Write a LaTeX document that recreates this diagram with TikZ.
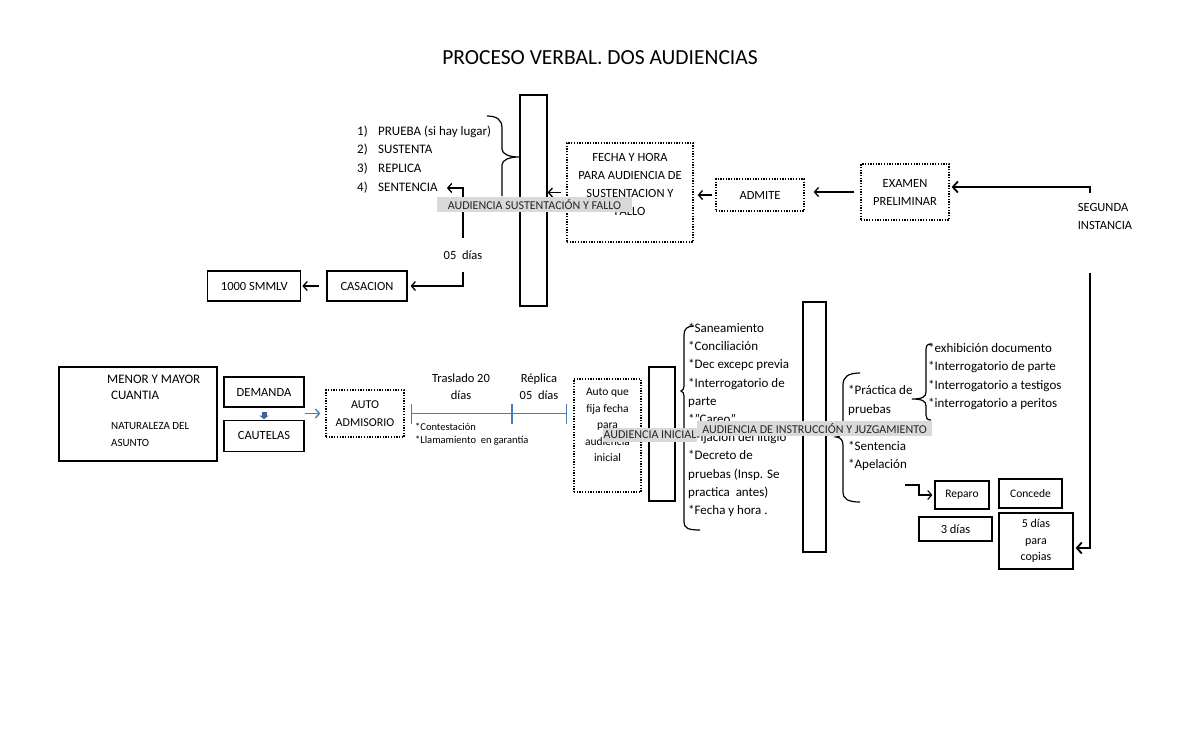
\documentclass[tikz,border=0pt]{standalone}
\usepackage{fontspec}
\setmainfont{Carlito}
\usepackage{tikz}
\usetikzlibrary{arrows.meta,positioning}
\definecolor{tagfill}{HTML}{D9D9D9}
\definecolor{lineblue}{HTML}{4A7EBB}
\definecolor{darkblue}{HTML}{3F6199}
\newcommand{\fs}[2]{\fontsize{#1}{#2}\selectfont}

\begin{document}
\begin{tikzpicture}[x=1pt, y=-1pt, font=\fs{12.5}{15}]
  \tikzstyle{box}=[draw, line width=1.2pt, inner sep=0pt, align=center]
  \tikzstyle{dbox}=[draw, dash pattern=on 1.3pt off 1.4pt, line width=1.3pt, inner sep=0pt]
  \tikzstyle{bar}=[draw, line width=1.2pt, inner sep=0pt]
  \tikzstyle{txt}=[inner sep=0pt, align=left]
  \tikzstyle{tag}=[fill=tagfill, inner sep=0pt, text=black!85, font=\fs{12}{14}]
  \tikzstyle{arrow}=[-{Straight Barb[length=4pt, width=9pt]}, line width=1.3pt]
  \tikzstyle{bigarrow}=[-{Straight Barb[length=5pt, width=11pt]}, line width=1.8pt]
  \tikzstyle{bluearrow}=[-{Straight Barb[length=4pt, width=9pt]}, line width=1.4pt, color=lineblue]
  \tikzstyle{timeline}=[{Bar[width=20pt]}-{Bar[width=20pt]}, line width=1.3pt, color=lineblue]
  \tikzstyle{brace}=[line width=1.2pt]

  \useasboundingbox (0,0) rectangle (1200,729);
  \fill[white] (0,0) rectangle (1200,729);

  \node[font=\fs{21.5}{26}] (title) at (600,58) {PROCESO VERBAL. DOS AUDIENCIAS};

  % audiencia de sustentacion y fallo
  \node[bar, minimum width=27pt, minimum height=211pt] (bar1) at (533.5,200.5) {};
  \node[txt, anchor=base west, text height=9pt, text depth=3pt, font=\fs{13}{15}] (l1) at (357,135) {\makebox[21pt][l]{1)}PRUEBA (si hay lugar)};
  \node[txt, anchor=base west, text height=9pt, text depth=3pt, font=\fs{13}{15}] (l2) at (357,153) {\makebox[21pt][l]{2)}SUSTENTA};
  \node[txt, anchor=base west, text height=9pt, text depth=3pt, font=\fs{13}{15}] (l3) at (357,172) {\makebox[21pt][l]{3)}REPLICA};
  \node[txt, anchor=base west, text height=9pt, text depth=3pt, font=\fs{13}{15}] (l4) at (357,191) {\makebox[21pt][l]{4)}SENTENCIA};
  \draw[brace] (487,116) .. controls (497,116) and (502,120) .. (502,128) -- (502,149)
    .. controls (502,154) and (509,157) .. (519,157)
    .. controls (509,157) and (502,160) .. (502,165) -- (502,196);

  \node[dbox, minimum width=126pt, minimum height=99pt] (fecha) at (630,192.5) {};
  \node[txt, align=center, font=\fs{12.5}{18.3}] (fechatext) at (630,184.5) {FECHA Y HORA\\PARA AUDIENCIA DE\\SUSTENTACION Y\\FALLO};
  \node[dbox, minimum width=88pt, minimum height=32pt] (admite) at (760,195) {ADMITE};
  \node[dbox, minimum width=88pt, minimum height=56pt, align=center, font=\fs{12.5}{18}] (examen) at (905,192) {EXAMEN\\PRELIMINAR};
  \node[txt, font=\fs{12.5}{18}] (segunda) at (1105,216) {SEGUNDA\\INSTANCIA};

  \draw[arrow, shorten <=5pt] (fecha.west) -- (fecha.west -| bar1.east);
  \draw[arrow, shorten <=3pt, shorten >=4pt] (admite.west) -- (admite.west -| fecha.east);
  \draw[arrow, shorten <=6pt, shorten >=9pt] (examen.west) -- (examen.west -| admite.east);

  \coordinate (s2top) at (1090,193);
  \coordinate (s2bend) at (1090,187);
  \coordinate (s2low) at (1090,273);
  \draw[bigarrow, shorten >=2pt] (s2top) -- (s2bend) -- (s2bend -| examen.east);

  \node[inner sep=0pt, minimum height=34pt] (dias) at (463,255) {05~~días};
  \node[box, minimum width=80pt, minimum height=30pt] (casacion) at (367,286) {CASACION};
  \node[box, minimum width=93pt, minimum height=30pt, left=25pt of casacion] (smmlv) {1000 SMMLV};
  \draw[arrow, shorten >=9pt] (dias.north) |- (l4.east);
  \draw[arrow, shorten >=3pt] (dias.south) |- (casacion.east);
  \draw[arrow, shorten <=7pt, shorten >=1pt] (casacion.west) -- (casacion.west -| smmlv.east);

  % primera parte
  \node[box, minimum width=158pt, minimum height=94pt] (menor) at (138,414) {};
  \node[txt, anchor=north west, font=\fs{13}{16}] (cuantia) at (107,375) {MENOR Y MAYOR\\\hspace*{4pt}CUANTIA};
  \node[txt, anchor=north west, font=\fs{11}{17}] (asunto) at (111,422) {NATURALEZA DEL\\ASUNTO};
  \node[box, minimum width=80pt, minimum height=30pt] (demanda) at (264,392) {DEMANDA};
  \node[box, minimum width=80pt, minimum height=31pt, below=12pt of demanda] (cautelas) {CAUTELAS};
  \draw[-{Triangle[width=9pt, length=3.5pt]}, line width=5pt, darkblue, shorten <=4pt, shorten >=0.5pt] (demanda) -- (cautelas);

  \node[dbox, minimum width=78pt, minimum height=47pt, align=center, font=\fs{12}{18}] (auto) at (365,413.5) {AUTO\\ADMISORIO};
  \draw[bluearrow, shorten >=5pt] (auto.west -| demanda.east) -- (auto.west);

  \coordinate (t0) at (411,413.5);
  \coordinate (t1) at (512,413.5);
  \coordinate (t2) at (567,413.5);
  \draw[timeline] (t0) -- (t1);
  \draw[timeline] (t1) -- (t2);
  \node[align=center, inner sep=0pt, font=\fs{12.5}{17}] (traslado) at (461,387) {Traslado 20\\días};
  \node[align=center, inner sep=0pt, font=\fs{12.5}{17}] (replica) at (539,387) {Réplica\\05~~días};
  \node[txt, anchor=north west, font=\fs{10.5}{13}] (contesta) at (415,423) {*Contestación\\*Llamamiento~~en garantía};

  % audiencia inicial
  \node[dbox, minimum width=67pt, minimum height=113pt] (autofija) at (607.5,435.5) {};
  \node[txt, align=center, font=\fs{11.5}{16.5}] (autofijatext) at (607.5,425) {Auto que\\fija fecha\\para\\audiencia\\inicial};
  \node[bar, minimum width=26pt, minimum height=134pt] (bar2) at (662,434) {};
  \draw[brace] (694,326) .. controls (687,326) and (684,329) .. (684,335) -- (684,386)
    .. controls (684,389) and (683,390) .. (681,391)
    .. controls (683,392) and (684,393) .. (684,396) -- (684,522)
    .. controls (684,528) and (688,530) .. (700,530);
  \node[txt, anchor=north west, font=\fs{13}{18.2}] (inicial) at (688,323) {*Saneamiento\\*Conciliación\\*Dec excepc previa\\*Interrogatorio de\\parte\\*”Careo”\\*Fijación del litigio\\*Decreto de\\pruebas (Insp. Se\\practica~~antes)\\*Fecha y hora .};

  % audiencia de instruccion y juzgamiento
  \node[bar, minimum width=23pt, minimum height=250pt] (bar3) at (814.5,427) {};
  \draw[brace] (860,373) .. controls (848,373) and (843,377) .. (843,385) -- (843,429)
    .. controls (843,434) and (840,437) .. (836,437)
    .. controls (840,437) and (843,440) .. (843,445) -- (843,492)
    .. controls (843,499) and (848,502) .. (860,502);
  \node[txt, anchor=north west, font=\fs{13}{19}] (practica) at (848,385) {*Práctica de\\pruebas};
  \node[txt, anchor=north west, font=\fs{13}{18}] (sentencia) at (848,441) {*Sentencia\\*Apelación};
  \draw[brace] (931,344) .. controls (927,344) and (926,346) .. (926,350) -- (926,392)
    .. controls (926,397) and (922,399) .. (912,399)
    .. controls (922,399) and (926,401) .. (926,406) -- (926,415)
    .. controls (926,418) and (927,420) .. (931,420);
  \node[txt, anchor=north west, font=\fs{13}{18.3}] (pruebas) at (928,343) {*exhibición documento\\*Interrogatorio de parte\\*Interrogatorio a testigos\\*interrogatorio a peritos};

  \node[box, minimum width=54pt, minimum height=28pt, font=\fs{11.5}{14}] (reparo) at (962,495) {Reparo};
  \node[box, minimum width=63pt, minimum height=29pt, font=\fs{11.5}{14}] (concede) at (1030.5,493.5) {Concede};
  \node[box, minimum width=73pt, minimum height=24pt] (tres) at (955.5,529) {3 días};
  \node[box, minimum width=74pt, minimum height=56pt, font=\fs{12}{16.5}] (cinco) at (1036,541) {5 días\\para\\copias};
  \coordinate (apel) at (905,485);
  \draw[arrow, line width=1.1pt, shorten >=2pt] (apel) -- ++(14,0) |- (reparo.west);
  \draw[bigarrow, shorten >=2pt] (s2low) |- ([yshift=-7pt]cinco.east);

  % etiquetas
  \node[tag, minimum width=195pt, minimum height=15pt] (tagfallo) at (534.5,204.5) {AUDIENCIA SUSTENTACIÓN Y FALLO};
  \node[tag, minimum width=94pt, minimum height=14pt] (taginicial) at (650,435) {AUDIENCIA INICIAL};
  \node[tag, minimum width=235pt, minimum height=15pt] (taginstr) at (814.5,428.5) {AUDIENCIA DE INSTRUCCIÓN Y JUZGAMIENTO};
\end{tikzpicture}
\end{document}
